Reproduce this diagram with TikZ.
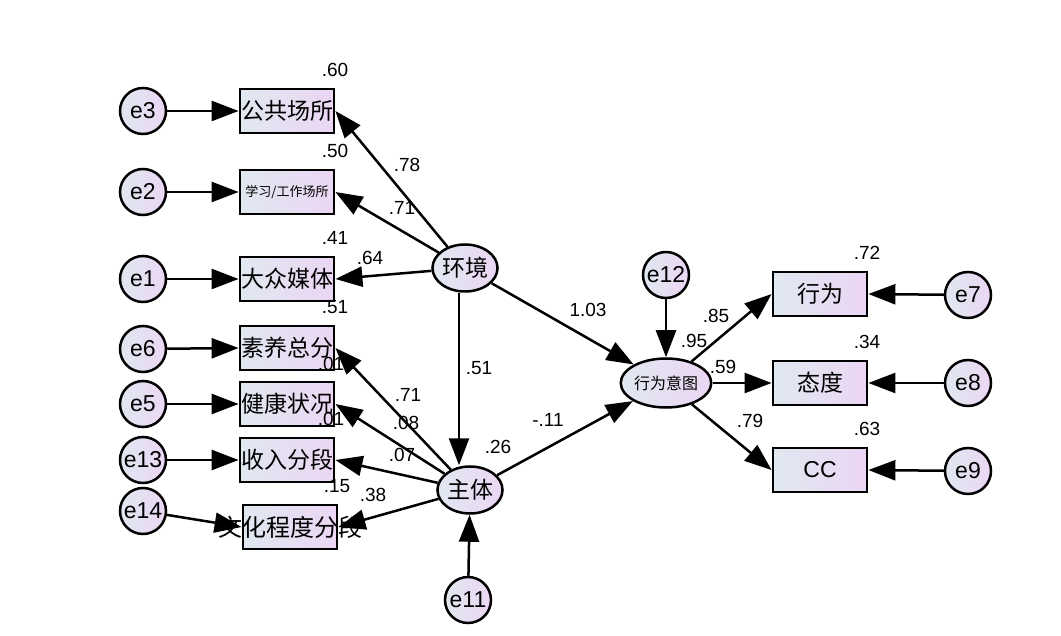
\documentclass[tikz,border=0pt]{standalone}
\usepackage{fontspec}
\setmainfont{Liberation Sans}
\newfontfamily\cjk{Noto Sans CJK SC}
\usetikzlibrary{positioning,
	shapes,
	arrows.meta}
\definecolor{fillL}{RGB}{224,232,240}
\definecolor{fillR}{RGB}{236,214,244}
\tikzstyle{obs}=[draw, line width=2.8pt, left color=fillL, right color=fillR,
		minimum width=94pt, minimum height=44pt, inner sep=0,
		font=\cjk\fontsize{23}{23}\selectfont]
\tikzstyle{lat}=[draw, ellipse, line width=2.5pt, left color=fillL, right color=fillR,
		minimum width=65pt, minimum height=47pt, inner sep=0,
		font=\cjk\fontsize{23}{23}\selectfont]
\tikzstyle{err}=[draw, circle, line width=2.5pt, left color=fillL, right color=fillR,
		minimum size=46pt, inner sep=0, font=\fontsize{23}{23}\selectfont]
\tikzstyle{coef}=[inner sep=0, font=\fontsize{19}{19}\selectfont]
\tikzstyle{arr}=[line width=2.5pt, -{Triangle[length=27pt,width=20pt]}]

\begin{document}
\begin{tikzpicture}[x=1pt, y=-1pt]
        \useasboundingbox (0,0) rectangle (1061,636);
        % indicators left
        \node[obs] (ggcs) at (287,111) {公共场所};
        \node[obs, font=\cjk\fontsize{13}{13}\selectfont] (xxgz) at (287,192) {学习/工作场所};
        \node[obs] (dzmt) at (287,279) {大众媒体};
        \node[obs] (sy) at (287,348) {素养总分};
        \node[obs] (jk) at (287,404) {健康状况};
        \node[obs] (sr) at (287,460) {收入分段};
        \node[obs] (wh) at (290,527) {};
        \node[inner sep=0, font=\cjk\fontsize{24}{24}\selectfont] (whtxt) at (wh) {文化程度分段};
        % errors left
        \node[err] (e3) at (143,111) {e3};
        \node[err] (e2) at (143,192) {e2};
        \node[err] (e1) at (143,279) {e1};
        \node[err] (e6) at (143,349) {e6};
        \node[err] (e5) at (143,404) {e5};
        \node[err] (e13) at (143,460) {e13};
        \node[err] (e14) at (143,511) {e14};
        % latents
        \node[lat] (hj) at (465,268) {环境};
        \node[lat] (zt) at (470,490) {主体};
        \node[lat, minimum width=64pt, minimum height=49pt, font=\cjk\fontsize{16}{16}\selectfont] (xwyt) at (666,383) {行为意图};
        \node[err] (e11) at (468,600) {e11};
        \node[err] (e12) at (666,275) {e12};
        % indicators right
        \node[obs] (xw) at (820,294) {行为};
        \node[obs] (td) at (820,383) {态度};
        \node[obs, font=\fontsize{23}{23}\selectfont] (cc) at (820,470) {CC};
        \node[err] (e7) at (968,295) {e7};
        \node[err] (e8) at (968,383) {e8};
        \node[err] (e9) at (968,471) {e9};
        % estimates
        \node[coef] at (335,70) {.60};
        \node[coef] at (335,151) {.50};
        \node[coef] at (335,238) {.41};
        \node[coef] at (335,307) {.51};
        \node[coef] at (331,364) {.01};
        \node[coef] at (331,419) {.01};
        \node[coef] at (337,486) {.15};
        \node[coef] at (407,165) {.78};
        \node[coef] at (402,208) {.71};
        \node[coef] at (370,258) {.64};
        \node[coef] at (479,368) {.51};
        \node[coef] at (408,395) {.71};
        \node[coef] at (406,423) {.08};
        \node[coef] at (402,455) {.07};
        \node[coef] at (373,495) {.38};
        \node[coef] at (498,447) {.26};
        \node[coef] at (588,310) {1.03};
        \node[coef] at (548,420) {-.11};
        \node[coef] at (694,341) {.95};
        \node[coef] at (716,316) {.85};
        \node[coef] at (723,367) {.59};
        \node[coef] at (750,421) {.79};
        \node[coef] at (867,253) {.72};
        \node[coef] at (867,342) {.34};
        \node[coef] at (867,429) {.63};
        % paths
        \draw[arr] (e3) -- (ggcs.west);
        \draw[arr] (e2) -- (xxgz.west);
        \draw[arr] (e1) -- (dzmt.west);
        \draw[arr] (e6) -- (sy.west);
        \draw[arr] (e5) -- (jk.west);
        \draw[arr] (e13) -- (sr.west);
        \draw[arr] (e14) -- (wh.west);
        \draw[arr] (hj) -- (ggcs.east);
        \draw[arr] (hj) -- (xxgz.east);
        \draw[arr] (hj) -- (dzmt.east);
        \draw[arr] (zt) -- (sy.east);
        \draw[arr] (zt) -- (jk.east);
        \draw[arr] (zt) -- (sr.east);
        \draw[arr] (zt) -- (wh.east);
        \draw[arr] ([xshift=-6pt]hj.south) -- ([xshift=-6pt]hj.south |- zt.north);
        \draw[arr] (e11) -- (zt);
        \draw[arr] (hj) -- (xwyt);
        \draw[arr] (zt) -- (xwyt);
        \draw[arr] (e12) -- (xwyt);
        \draw[arr] (xwyt) -- (xw.west);
        \draw[arr] (xwyt) -- (td.west);
        \draw[arr] (xwyt) -- (cc.west);
        \draw[arr] (e7) -- (xw.east);
        \draw[arr] (e8) -- (td.east);
        \draw[arr] (e9) -- (cc.east);
\end{tikzpicture}
\end{document}
